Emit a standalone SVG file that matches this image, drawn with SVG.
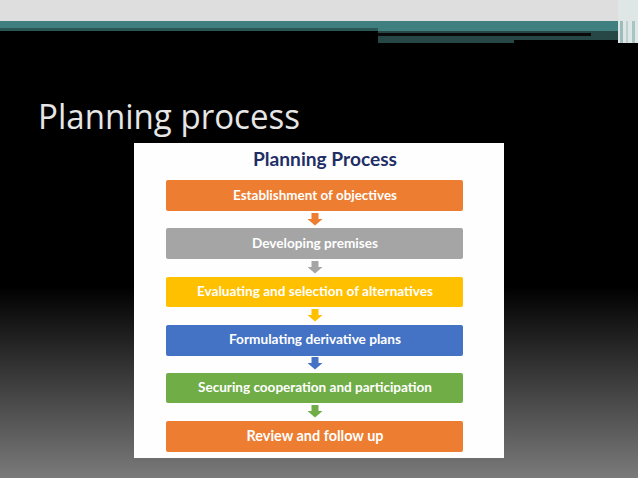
<svg xmlns="http://www.w3.org/2000/svg" width="638" height="478" viewBox="0 0 638 478">
<defs>
<linearGradient id="bg" x1="0" y1="0" x2="0" y2="478" gradientUnits="userSpaceOnUse">
<stop offset="0" stop-color="#000"/>
<stop offset="0.6" stop-color="#000"/>
<stop offset="1" stop-color="#7a7a7a"/>
</linearGradient>
<style>
.box{stroke:none}
.lbl{font-family:Lato,"Open Sans",sans-serif;font-weight:bold;fill:#fff;text-anchor:middle}
</style>
</defs>
<rect x="0" y="0" width="638" height="478" fill="url(#bg)"/>
<!-- top banner -->
<rect x="0" y="0" width="638" height="21" fill="#dedede"/>
<rect x="0" y="21" width="618" height="10" fill="#3f7f7f"/>
<rect x="0" y="28" width="378" height="3" fill="#2b5656"/>
<rect x="378" y="31" width="240" height="9" fill="#274646"/>
<rect x="378" y="40" width="136" height="3" fill="#274646"/>
<rect x="378" y="33" width="213" height="3" fill="#0a0a0a"/>
<rect x="618" y="0" width="20" height="43" fill="#dfe6e6"/>
<rect x="620" y="21" width="3" height="22" fill="#9fbcbc"/>
<rect x="626" y="21" width="2" height="22" fill="#bcd0d0"/>
<rect x="632" y="21" width="3" height="22" fill="#a8c4c4"/>
<text x="38" y="129" font-family="'Open Sans',Lato,sans-serif" font-size="34" fill="#e6e6e6" textLength="262" lengthAdjust="spacingAndGlyphs">Planning process</text>
<!-- panel -->
<rect x="134" y="143" width="370" height="315" fill="#fefefe"/>
<text x="325" y="166" font-family="Lato,'Open Sans',sans-serif" font-weight="bold" font-size="19" fill="#1f2f66" text-anchor="middle" textLength="144" lengthAdjust="spacingAndGlyphs">Planning Process</text>
<g id="n1"><rect class="box" x="166" y="180" width="297" height="31" rx="2" fill="#ed7d31"/><text class="lbl" x="315" y="200" font-size="13.5" textLength="164" lengthAdjust="spacingAndGlyphs">Establishment of objectives</text></g>
<g id="n2"><rect class="box" x="166" y="228" width="297" height="31" rx="2" fill="#a5a5a5"/><text class="lbl" x="315" y="248" font-size="13.5" textLength="126" lengthAdjust="spacingAndGlyphs">Developing premises</text></g>
<g id="n3"><rect class="box" x="166" y="277" width="297" height="30" rx="2" fill="#ffc000"/><text class="lbl" x="315" y="296" font-size="13.5" textLength="236" lengthAdjust="spacingAndGlyphs">Evaluating and selection of alternatives</text></g>
<g id="n4"><rect class="box" x="166" y="325" width="297" height="31" rx="2" fill="#4472c4"/><text class="lbl" x="315" y="344" font-size="13.5" textLength="172" lengthAdjust="spacingAndGlyphs">Formulating derivative plans</text></g>
<g id="n5"><rect class="box" x="166" y="373" width="297" height="30" rx="2" fill="#70ad47"/><text class="lbl" x="315" y="392" font-size="13.5" textLength="234" lengthAdjust="spacingAndGlyphs">Securing cooperation and participation</text></g>
<g id="n6"><rect class="box" x="166" y="421" width="297" height="31" rx="2" fill="#ed7d31"/><text class="lbl" x="315" y="441" font-size="15" textLength="137" lengthAdjust="spacingAndGlyphs">Review and follow up</text></g>
<g id="connectors">
<path d="M311.5,213 h7 v6 h4 l-7.5,6.5 l-7.5,-6.5 h4 z" fill="#ed7d31"/>
<path d="M311.5,261 h7 v6 h4 l-7.5,6.5 l-7.5,-6.5 h4 z" fill="#a5a5a5"/>
<path d="M311.5,309 h7 v6 h4 l-7.5,6.5 l-7.5,-6.5 h4 z" fill="#ffc000"/>
<path d="M311.5,357 h7 v6 h4 l-7.5,6.5 l-7.5,-6.5 h4 z" fill="#4472c4"/>
<path d="M311.5,405 h7 v6 h4 l-7.5,6.5 l-7.5,-6.5 h4 z" fill="#70ad47"/>
</g>
</svg>
